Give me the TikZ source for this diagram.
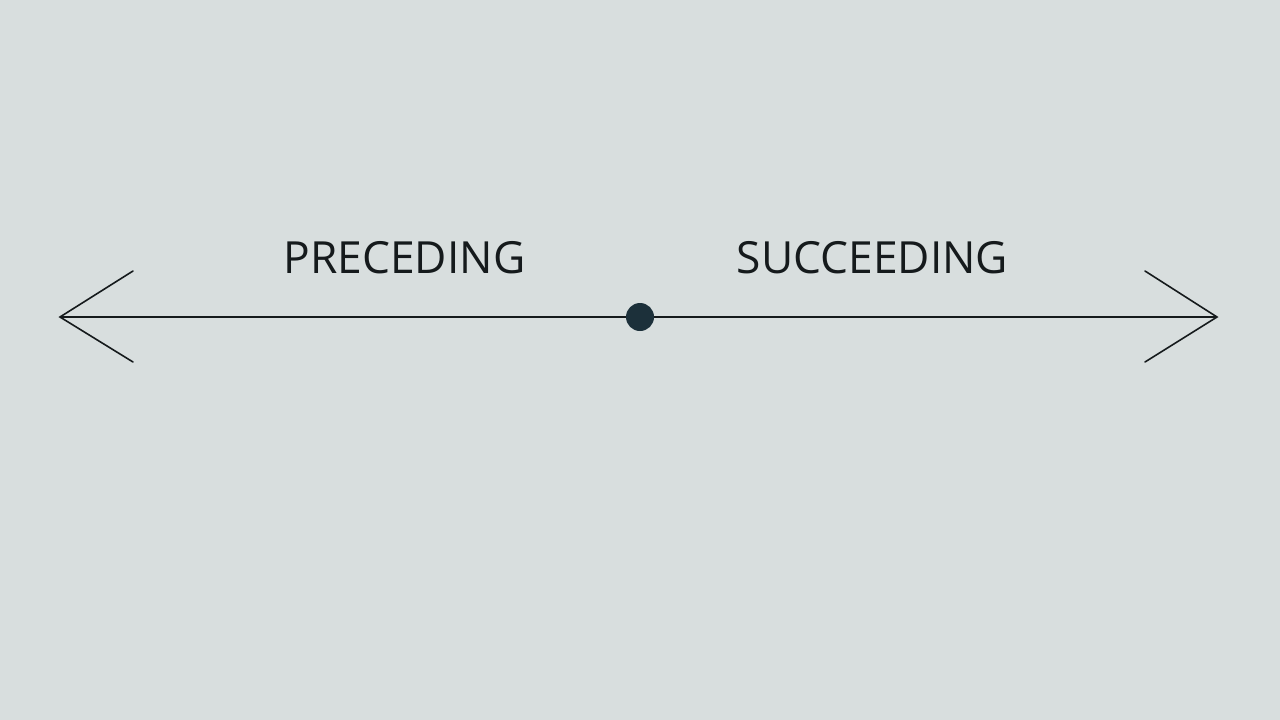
\documentclass[tikz,border=0pt]{standalone}
\usepackage{fontspec}
\setmainfont{Open Sans}
\definecolor{bg}{HTML}{D8DEDE}
\definecolor{ink}{HTML}{151A1C}
\definecolor{dotc}{HTML}{1C303A}
\begin{document}
\begin{tikzpicture}[x=1pt,y=-1pt,
  lbl/.style={font=\fontsize{44.3}{53}\selectfont, text=ink, inner sep=0pt, anchor=base},
  axis/.style={draw=ink, line width=1.8pt},
  head/.style={draw=ink, line width=1.6pt, line cap=round}]
\fill[bg] (0,0) rectangle (1280,720);
\useasboundingbox (0,0) rectangle (1280,720);
\coordinate (L) at (60,317);
\coordinate (R) at (1217,317);
\coordinate (LU) at (133,271);
\coordinate (LD) at (133,362);
\coordinate (RU) at (1145,271);
\coordinate (RD) at (1145,362);
\draw[axis] (L) -- (R);
\draw[head] (LU) -- (L) -- (LD);
\draw[head] (RU) -- (R) -- (RD);
\node[circle, fill=dotc, minimum size=28pt, inner sep=0pt] (dot) at (640,317) {};
\node[lbl] (pre) at (404.5,273) {PRECEDING};
\node[lbl] (suc) at (872.5,273) {SUCCEEDING};
\end{tikzpicture}
\end{document}
